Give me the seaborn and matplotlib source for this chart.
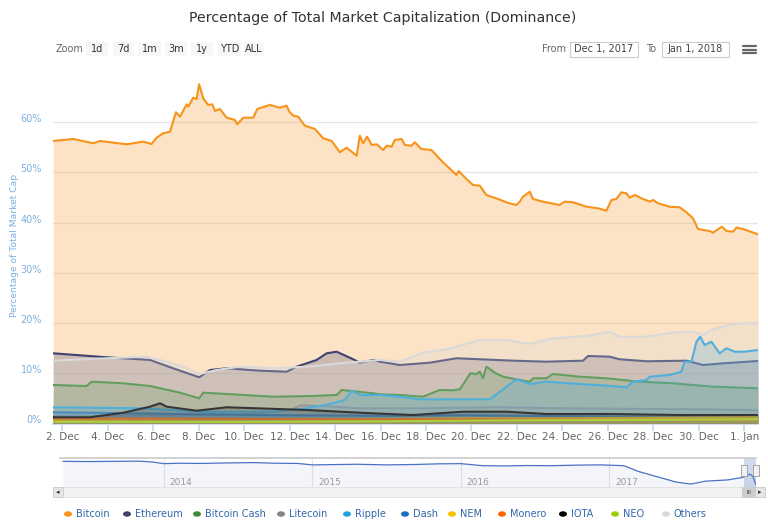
import matplotlib
matplotlib.use("Agg")
import matplotlib.pyplot as plt
import matplotlib.transforms as mtransforms
from matplotlib.patches import Rectangle
import seaborn as sns

# ---- data (x = day of December; 32 = 1 Jan) ----
btc_day = [1.60, 2.48, 3.36, 3.66, 4.83, 5.56, 5.93, 6.15, 6.44, 6.74, 7.00, 7.18, 7.47, 7.54,
           7.76, 7.91, 8.02, 8.20, 8.42, 8.60, 8.72, 8.93, 9.23, 9.59, 9.70, 9.96, 10.40, 10.58,
           11.13, 11.57, 11.87, 11.99, 12.16, 12.38, 12.67, 13.11, 13.48, 13.85, 14.21, 14.51,
           14.95, 15.09, 15.24, 15.41, 15.61, 15.83, 16.12, 16.27, 16.49, 16.63, 16.93, 17.07,
           17.36, 17.51, 17.80, 18.24, 18.75, 19.19, 19.34, 19.44, 19.78, 20.07, 20.37, 20.66,
           21.17, 21.54, 21.68, 21.98, 22.13, 22.27, 22.57, 22.71, 23.15, 23.88, 24.10, 24.47,
           25.06, 25.57, 25.94, 26.16, 26.38, 26.60, 26.82, 26.97, 27.19, 27.48, 27.85, 28.00,
           28.21, 28.72, 29.16, 29.46, 29.75, 29.97, 30.19, 30.48, 30.63, 31.02, 31.22, 31.51,
           31.66, 31.95, 32.61]
btc_val = [56.27, 56.67, 55.81, 56.27, 55.61, 56.13, 55.67, 56.93, 57.80, 58.12, 61.99, 61.11, 63.58, 63.10,
           64.90, 64.64, 67.57, 64.78, 63.44, 63.58, 62.25, 62.65, 60.91, 60.45, 59.60, 60.91, 60.91, 62.65,
           63.44, 62.91, 63.30, 62.11, 61.31, 61.11, 59.32, 58.66, 56.81, 56.27, 54.02, 54.93,
           53.34, 57.32, 55.81, 57.13, 55.47, 55.61, 54.47, 55.33, 55.13, 56.47, 56.67, 55.47,
           55.33, 56.01, 54.67, 54.47, 52.02, 50.15, 49.49, 50.29, 48.69, 47.50, 47.36, 45.50,
           44.71, 44.05, 43.85, 43.51, 44.17, 45.17, 46.16, 44.71, 44.17, 43.51, 44.17, 44.05,
           43.17, 42.85, 42.38, 44.51, 44.71, 46.04, 45.84, 44.97, 45.50, 44.85, 44.17, 44.51,
           43.85, 43.17, 43.05, 42.06, 40.86, 38.73, 38.53, 38.33, 37.99, 39.19, 38.33, 38.19,
           38.99, 38.73, 37.67]

eth_day = [1.60, 3.95, 5.86, 6.88, 8.02, 8.50, 9.23, 10.70, 11.87, 12.31, 13.19, 13.63, 14.07, 14.80,
           15.09, 15.68, 15.97, 16.85, 18.17, 19.34, 21.83, 23.30, 24.91, 25.13, 26.08, 26.52, 27.70,
           29.46, 30.19, 31.07, 32.61]
eth_val = [13.95, 13.16, 12.62, 10.96, 9.17, 10.62, 10.96, 10.48, 10.29, 11.28, 12.62, 13.95, 14.27, 12.76,
           12.08, 12.62, 12.28, 11.62, 12.08, 12.96, 12.48, 12.28, 12.48, 13.41, 13.28, 12.76, 12.36,
           12.48, 11.62, 11.95, 12.42]

bch_day = [1.60, 3.07, 3.29, 4.68, 5.86, 7.18, 8.02, 8.20, 9.23, 11.28, 13.04, 14.07, 14.29, 15.68,
           15.97, 16.85, 17.87, 18.61, 19.19, 19.49, 19.96, 20.22, 20.37, 20.51, 20.66, 21.03, 21.39,
           21.98, 22.57, 22.71, 23.30, 23.59, 24.76, 25.94, 27.41, 28.87, 29.75, 30.63, 32.61]
bch_val = [7.63, 7.43, 8.29, 7.97, 7.43, 6.10, 4.98, 6.10, 5.84, 5.30, 5.44, 5.64, 6.64, 5.98,
           5.78, 5.64, 5.30, 6.64, 6.58, 6.78, 9.97, 9.80, 10.29, 8.97, 11.28, 10.09, 9.29,
           8.77, 8.29, 8.97, 8.97, 9.83, 9.29, 8.97, 8.29, 7.97, 7.63, 7.30, 6.98]

ltc_day = [1.60, 4.0, 7.0, 10.0, 12.0, 12.5, 13.5, 15.0, 18.0, 21.0, 24.0, 27.0, 30.0, 32.61]
ltc_val = [1.5, 1.5, 1.6, 1.8, 2.6, 3.6, 3.4, 3.0, 3.0, 3.2, 3.0, 2.9, 2.8, 2.6]

xrp_day = [1.60, 5.42, 8.06, 11.28, 12.75, 13.77, 14.43, 14.73, 15.09, 15.97, 16.85, 17.73, 19.63,
           20.81, 21.17, 21.98, 22.57, 23.30, 24.76, 26.23, 26.82, 27.11, 27.70, 27.85, 28.72, 29.24,
           29.38, 29.68, 29.90, 30.07, 30.26, 30.56, 30.92, 31.22, 31.58, 32.02, 32.61]
xrp_val = [3.19, 2.99, 2.31, 2.31, 2.99, 3.85, 4.64, 6.50, 5.64, 5.64, 5.30, 4.78, 4.78,
           4.78, 5.98, 8.77, 7.83, 8.29, 7.83, 7.43, 7.18, 8.29, 8.63, 9.29, 9.63, 10.29,
           12.28, 12.28, 16.26, 17.26, 15.61, 16.26, 13.95, 14.95, 14.27, 14.27, 14.61]

dash_day = [1.60, 5.0, 8.0, 12.0, 16.0, 20.0, 24.0, 28.0, 32.61]
dash_val = [2.2, 2.0, 1.8, 1.6, 1.5, 1.6, 1.4, 1.3, 1.2]

nem_day = [1.60, 8.0, 14.0, 20.0, 24.0, 28.0, 32.61]
nem_val = [0.7, 0.8, 0.8, 1.0, 1.0, 1.1, 1.2]

xmr_day = [1.60, 8.0, 14.0, 20.0, 26.0, 32.61]
xmr_val = [1.0, 0.9, 0.8, 0.8, 0.7, 0.7]

iota_day = [1.60, 3.22, 4.68, 5.86, 6.30, 6.59, 7.91, 9.23, 10.55, 12.75, 14.21, 15.68, 17.44,
            19.63, 21.54, 23.30, 26.20, 29.16, 32.61]
iota_val = [1.20, 1.20, 2.11, 3.31, 3.99, 3.31, 2.51, 3.19, 2.99, 2.65, 2.31, 1.99, 1.65,
            2.31, 2.31, 1.85, 1.85, 1.65, 1.65]

neo_day = [1.60, 10.0, 16.0, 22.0, 28.0, 32.61]
neo_val = [0.3, 0.3, 0.4, 0.6, 0.7, 0.8]

oth_day = [1.60, 3.95, 5.71, 6.59, 7.32, 8.06, 8.79, 9.82, 11.28, 12.75, 14.21, 15.97, 16.85, 17.87,
           18.90, 20.37, 21.54, 22.57, 23.59, 25.06, 26.08, 26.52, 27.70, 28.87, 29.75, 30.19, 30.63,
           31.51, 32.61]
oth_val = [12.48, 12.96, 13.28, 12.28, 11.28, 9.83, 10.62, 11.28, 10.96, 11.28, 11.96, 12.62, 12.28, 14.07,
           14.75, 16.60, 16.60, 15.81, 16.94, 17.40, 18.26, 17.26, 17.26, 18.06, 18.26, 17.60, 18.74,
           19.79, 20.05]

names = ["Bitcoin", "Ethereum", "Bitcoin Cash", "Litecoin", "Ripple", "Dash",
         "NEM", "Monero", "IOTA", "NEO", "Others"]
series_days = [btc_day, eth_day, bch_day, ltc_day, xrp_day, dash_day,
               nem_day, xmr_day, iota_day, neo_day, oth_day]
series_vals = [btc_val, eth_val, bch_val, ltc_val, xrp_val, dash_val,
               nem_val, xmr_val, iota_val, neo_val, oth_val]
colors = ["#f7931a", "#3f4272", "#3d8b37", "#838383", "#23a1db", "#1c6fb5",
          "#f9c000", "#ff6600", "#000000", "#9fce0d", "#d9d9d9"]

# navigator: overall Bitcoin dominance history (year fraction)
nav_year = [2013.32, 2013.5, 2013.67, 2013.83, 2013.92, 2014.0, 2014.1, 2014.25, 2014.4, 2014.6,
            2014.75, 2014.9, 2015.0, 2015.1, 2015.3, 2015.5, 2015.7, 2015.85, 2016.0, 2016.15,
            2016.3, 2016.45, 2016.6, 2016.8, 2016.95, 2017.1, 2017.2, 2017.3, 2017.45, 2017.55,
            2017.65, 2017.8, 2017.9, 2017.95, 2017.97, 2017.99]
nav_val = [94.5, 94, 94.5, 95, 93, 89, 90, 89.5, 90.5, 91.5,
           90, 89.5, 86, 86.5, 87.5, 86, 87, 88.5, 89, 84,
           83.5, 84.5, 84, 85.5, 86, 84, 70, 60, 45, 40,
           47, 50, 56, 64, 58, 38]
nav_years = [2014, 2015, 2016, 2017]

xtick_days = list(range(2, 33, 2))
xtick_labels = [f"{d}. Dec" for d in range(2, 31, 2)] + ["1. Jan"]
yticks = [0, 10, 20, 30, 40, 50, 60]

# ---- figure ----
sns.set_theme(style="white")
plt.rcParams['font.family'] = ['DejaVu Sans']
W, H = 768, 525
fig = plt.figure(figsize=(W / 100, H / 100), dpi=100)


def box(x0, y0, x1, y1):
    return [x0 / W, 1 - y1 / H, (x1 - x0) / W, (y1 - y0) / H]


def ftxt(x, y, s, **kw):
    fig.text(x / W, 1 - y / H, s, va="center", **kw)


ax = fig.add_axes(box(53, 75, 758, 424))
for i, (d, v, c) in enumerate(zip(series_days, series_vals, colors)):
    ax.fill_between(d, 0, v, color=c, alpha=0.25, lw=0, zorder=2 + 2 * i)
    sns.lineplot(x=d, y=v, ax=ax, color=c, lw=1.5, estimator=None, sort=False,
                 zorder=3 + 2 * i)

ax.set_xlim(1.59, 32.61)
ax.set_ylim(-0.14, 69.42)
ax.set_yticks(yticks)
ax.set_yticklabels([f"{t}%" for t in yticks], fontsize=7, color="#7fb0e0")
ax.set_xticks(xtick_days)
ax.set_xticklabels(xtick_labels, fontsize=7.5, color="#666666")
ax.grid(axis="y", color="#e6e6e6", lw=0.9, zorder=0)
ax.grid(axis="x", visible=False)
for s in ["top", "right", "left"]:
    ax.spines[s].set_visible(False)
ax.spines["bottom"].set_color("#ccd6eb")
ax.tick_params(axis="x", length=5, color="#ccd6eb", pad=1, bottom=True)
ax.tick_params(axis="y", length=0, pad=8)
off = mtransforms.ScaledTranslation(0, 4 / 100, fig.dpi_scale_trans)
for lab in ax.get_yticklabels():
    lab.set_transform(lab.get_transform() + off)
ax.set_xlabel("")
ax.set_ylabel("")
fig.text(15 / W, 1 - 245 / H, "Percentage of Total Market Cap", rotation=90,
         va="center", ha="center", fontsize=6.6, color="#7fb0e0")

# title and range selector
ftxt(383, 18, "Percentage of Total Market Capitalization (Dominance)",
     ha="center", fontsize=10.2, color="#333333")
ftxt(70, 49, "Zoom", ha="center", fontsize=7, color="#666666")
btns = [("1d", 86, 108), ("7d", 113, 134), ("1m", 138, 161), ("3m", 165, 187),
        ("1y", 191, 213), ("YTD", 218, 241), ("ALL", 244, 264)]
for lab, x0, x1 in btns:
    fig.patches.append(Rectangle((x0 / W, 1 - 56 / H), (x1 - x0) / W, 14 / H,
                                 transform=fig.transFigure, fc="#f7f7f7", ec="none"))
    ftxt((x0 + x1) / 2, 49, lab, ha="center", fontsize=7, color="#333333")
ftxt(554, 49, "From", ha="center", fontsize=7, color="#666666")
ftxt(651, 49, "To", ha="center", fontsize=7, color="#666666")
for lab, x0, x1 in [("Dec 1, 2017", 570, 638), ("Jan 1, 2018", 662, 729)]:
    fig.patches.append(Rectangle((x0 / W, 1 - 57 / H), (x1 - x0) / W, 15 / H,
                                 transform=fig.transFigure, fc="white", ec="#cccccc", lw=0.8))
    ftxt((x0 + x1) / 2, 49, lab, ha="center", fontsize=7, color="#444444")
for yy in [46, 49.5, 53]:
    fig.lines.append(plt.Line2D([743 / W, 756 / W], [1 - yy / H] * 2,
                                transform=fig.transFigure, color="#666666", lw=1.6))

# navigator
nav = fig.add_axes(box(60, 458, 756, 487))
nav.set_facecolor("white")
nav.fill_between(nav_year, 33, nav_val, color="#335cad", alpha=0.06, lw=0)
sns.lineplot(x=nav_year, y=nav_val, ax=nav, color="#4a72c4", lw=0.9, estimator=None, sort=False)
nav.set_xlim(2013.3, 2017.99)
nav.set_ylim(33, 102.5)
nav.set_xticks([])
nav.set_yticks([])
nav.set_xlabel("")
nav.set_ylabel("")
for yr in nav_years:
    nav.axvline(yr, color="#e6e6e6", lw=0.8, zorder=0)
    nav.text(yr + 0.04, 44, str(yr), fontsize=6.5, color="#999999", va="center")
for s in ["left", "right", "bottom"]:
    nav.spines[s].set_visible(False)
nav.spines["top"].set_color("#cccccc")
nav.axvspan(2017.91, 2017.99, color="#6685c2", alpha=0.3, lw=0)
for hx in [2017.91, 2017.99]:
    nav.add_patch(Rectangle((hx - 0.02, 60), 0.04, 26, fc="#f2f2f2", ec="#999999", lw=0.6,
                            zorder=5, clip_on=False))

# scrollbar
fig.patches.append(Rectangle((53 / W, 1 - 497 / H), (765 - 53) / W, 10 / H,
                             transform=fig.transFigure, fc="#f2f2f2", ec="#e0e0e0", lw=0.6))
for x0 in [53, 755]:
    fig.patches.append(Rectangle((x0 / W, 1 - 497 / H), 10 / W, 10 / H,
                                 transform=fig.transFigure, fc="#e6e6e6", ec="#cccccc", lw=0.6))
fig.patches.append(Rectangle((742 / W, 1 - 497 / H), 13 / W, 10 / H,
                             transform=fig.transFigure, fc="#cccccc", ec="#cccccc", lw=0.6))
ftxt(58, 492, "\u25c2", ha="center", fontsize=5, color="#333333")
ftxt(760, 492, "\u25b8", ha="center", fontsize=5, color="#333333")
ftxt(748.5, 492, "III", ha="center", fontsize=4, color="#333333")

# legend
leg_x = [68, 127, 197, 281, 347, 405, 452, 502, 563, 615, 666]
for name, c, lx in zip(names, colors, leg_x):
    fig.patches.append(plt.Circle((lx / W, 1 - 514 / H), 4 / W, transform=fig.transFigure,
                                  fc=c, ec="none"))
    ftxt(lx + 8, 514, name, ha="left", fontsize=7, color="#3366aa")

fig.savefig("out.png", dpi=100)
